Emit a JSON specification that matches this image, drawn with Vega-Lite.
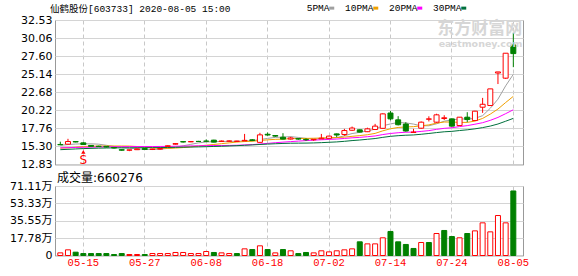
{
  "$schema": "https://vega.github.io/schema/vega-lite/v6.json",
  "autosize": {"type": "pad"},
  "padding": {"left": 9, "top": 3, "right": 0, "bottom": 0},
  "background": "white",
  "spacing": 1,
  "datasets": {
    "k": [
      {"d": "2020-05-12", "o": 15.56, "h": 15.94, "l": 15.50, "c": 15.52, "v": 27000, "r": 1, "5PMA": 15.45, "10PMA": 15.06, "20PMA": 15.10, "30PMA": 14.85},
      {"d": "2020-05-13", "o": 15.60, "h": 16.33, "l": 15.55, "c": 15.96, "v": 58000, "r": 1, "5PMA": 15.55, "10PMA": 15.10, "20PMA": 15.12, "30PMA": 14.90},
      {"d": "2020-05-14", "o": 15.96, "h": 16.02, "l": 15.85, "c": 15.90, "v": 34000, "r": 0, "5PMA": 15.62, "10PMA": 15.20, "20PMA": 15.15, "30PMA": 14.95},
      {"d": "2020-05-15", "o": 15.78, "h": 15.85, "l": 15.50, "c": 15.55, "v": 20000, "r": 0, "5PMA": 15.65, "10PMA": 15.28, "20PMA": 15.18, "30PMA": 15.00},
      {"d": "2020-05-18", "o": 15.43, "h": 15.45, "l": 15.25, "c": 15.30, "v": 20000, "r": 0, "5PMA": 15.65, "10PMA": 15.32, "20PMA": 15.20, "30PMA": 15.03},
      {"d": "2020-05-19", "o": 15.32, "h": 15.40, "l": 15.22, "c": 15.28, "v": 20000, "r": 0, "5PMA": 15.60, "10PMA": 15.34, "20PMA": 15.22, "30PMA": 15.06},
      {"d": "2020-05-20", "o": 15.30, "h": 15.35, "l": 15.15, "c": 15.22, "v": 20000, "r": 0, "5PMA": 15.45, "10PMA": 15.35, "20PMA": 15.24, "30PMA": 15.08},
      {"d": "2020-05-21", "o": 15.15, "h": 15.20, "l": 15.00, "c": 15.08, "v": 10000, "r": 0, "5PMA": 15.29, "10PMA": 15.35, "20PMA": 15.25, "30PMA": 15.10},
      {"d": "2020-05-22", "o": 14.85, "h": 14.90, "l": 14.70, "c": 14.78, "v": 20000, "r": 0, "5PMA": 15.13, "10PMA": 15.35, "20PMA": 15.26, "30PMA": 15.10},
      {"d": "2020-05-25", "o": 14.78, "h": 14.83, "l": 14.65, "c": 14.82, "v": 10000, "r": 1, "5PMA": 15.04, "10PMA": 15.34, "20PMA": 15.27, "30PMA": 15.11},
      {"d": "2020-05-26", "o": 14.85, "h": 15.00, "l": 14.80, "c": 14.95, "v": 10000, "r": 1, "5PMA": 14.97, "10PMA": 15.28, "20PMA": 15.28, "30PMA": 15.12},
      {"d": "2020-05-27", "o": 15.00, "h": 15.05, "l": 14.85, "c": 14.88, "v": 10000, "r": 0, "5PMA": 14.90, "10PMA": 15.18, "20PMA": 15.28, "30PMA": 15.12},
      {"d": "2020-05-28", "o": 14.88, "h": 14.98, "l": 14.82, "c": 14.92, "v": 20000, "r": 1, "5PMA": 14.87, "10PMA": 15.08, "20PMA": 15.28, "30PMA": 15.13},
      {"d": "2020-05-29", "o": 14.92, "h": 15.05, "l": 14.85, "c": 15.00, "v": 20000, "r": 1, "5PMA": 14.91, "10PMA": 15.02, "20PMA": 15.29, "30PMA": 15.14},
      {"d": "2020-06-01", "o": 15.30, "h": 15.45, "l": 15.25, "c": 15.38, "v": 20000, "r": 1, "5PMA": 15.03, "10PMA": 15.03, "20PMA": 15.30, "30PMA": 15.15},
      {"d": "2020-06-02", "o": 15.60, "h": 15.75, "l": 15.55, "c": 15.68, "v": 31000, "r": 1, "5PMA": 15.17, "10PMA": 15.07, "20PMA": 15.32, "30PMA": 15.17},
      {"d": "2020-06-03", "o": 15.95, "h": 16.00, "l": 15.82, "c": 15.90, "v": 31000, "r": 1, "5PMA": 15.38, "10PMA": 15.14, "20PMA": 15.34, "30PMA": 15.19},
      {"d": "2020-06-04", "o": 15.92, "h": 16.02, "l": 15.88, "c": 15.96, "v": 20000, "r": 1, "5PMA": 15.58, "10PMA": 15.23, "20PMA": 15.36, "30PMA": 15.21},
      {"d": "2020-06-05", "o": 15.98, "h": 16.05, "l": 15.90, "c": 15.97, "v": 20000, "r": 1, "5PMA": 15.78, "10PMA": 15.35, "20PMA": 15.38, "30PMA": 15.23},
      {"d": "2020-06-08", "o": 16.02, "h": 16.25, "l": 15.98, "c": 16.00, "v": 41000, "r": 1, "5PMA": 15.90, "10PMA": 15.46, "20PMA": 15.40, "30PMA": 15.26},
      {"d": "2020-06-09", "o": 16.15, "h": 16.20, "l": 15.85, "c": 15.88, "v": 31000, "r": 0, "5PMA": 15.94, "10PMA": 15.56, "20PMA": 15.42, "30PMA": 15.29},
      {"d": "2020-06-10", "o": 15.98, "h": 16.10, "l": 15.92, "c": 16.02, "v": 27000, "r": 1, "5PMA": 15.97, "10PMA": 15.67, "20PMA": 15.42, "30PMA": 15.32},
      {"d": "2020-06-11", "o": 16.00, "h": 16.10, "l": 15.95, "c": 16.04, "v": 20000, "r": 1, "5PMA": 15.98, "10PMA": 15.78, "20PMA": 15.43, "30PMA": 15.36},
      {"d": "2020-06-12", "o": 15.98, "h": 16.06, "l": 15.93, "c": 16.02, "v": 20000, "r": 0, "5PMA": 15.99, "10PMA": 15.89, "20PMA": 15.45, "30PMA": 15.40},
      {"d": "2020-06-15", "o": 16.05, "h": 17.00, "l": 16.02, "c": 16.12, "v": 68000, "r": 1, "5PMA": 16.02, "10PMA": 15.96, "20PMA": 15.50, "30PMA": 15.45},
      {"d": "2020-06-16", "o": 16.20, "h": 16.30, "l": 16.02, "c": 16.10, "v": 61000, "r": 0, "5PMA": 16.06, "10PMA": 16.00, "20PMA": 15.54, "30PMA": 15.50},
      {"d": "2020-06-17", "o": 15.85, "h": 17.15, "l": 15.80, "c": 16.87, "v": 99000, "r": 1, "5PMA": 16.23, "10PMA": 16.10, "20PMA": 15.62, "30PMA": 15.56},
      {"d": "2020-06-18", "o": 16.95, "h": 17.20, "l": 16.75, "c": 16.85, "v": 61000, "r": 0, "5PMA": 16.39, "10PMA": 16.19, "20PMA": 15.71, "30PMA": 15.61},
      {"d": "2020-06-19", "o": 16.78, "h": 16.85, "l": 16.60, "c": 16.70, "v": 27000, "r": 1, "5PMA": 16.53, "10PMA": 16.26, "20PMA": 15.80, "30PMA": 15.66},
      {"d": "2020-06-22", "o": 16.55, "h": 17.10, "l": 16.25, "c": 16.29, "v": 61000, "r": 0, "5PMA": 16.56, "10PMA": 16.29, "20PMA": 15.88, "30PMA": 15.70},
      {"d": "2020-06-23", "o": 16.30, "h": 16.60, "l": 16.22, "c": 16.45, "v": 48000, "r": 1, "5PMA": 16.63, "10PMA": 16.35, "20PMA": 15.95, "30PMA": 15.73},
      {"d": "2020-06-24", "o": 16.35, "h": 16.45, "l": 16.20, "c": 16.30, "v": 20000, "r": 0, "5PMA": 16.52, "10PMA": 16.37, "20PMA": 16.02, "30PMA": 15.74},
      {"d": "2020-06-29", "o": 16.25, "h": 16.40, "l": 16.05, "c": 16.20, "v": 31000, "r": 0, "5PMA": 16.39, "10PMA": 16.39, "20PMA": 16.09, "30PMA": 15.75},
      {"d": "2020-06-30", "o": 16.20, "h": 16.30, "l": 16.05, "c": 16.26, "v": 27000, "r": 1, "5PMA": 16.30, "10PMA": 16.41, "20PMA": 16.15, "30PMA": 15.77},
      {"d": "2020-07-01", "o": 16.33, "h": 17.00, "l": 16.30, "c": 16.42, "v": 48000, "r": 1, "5PMA": 16.33, "10PMA": 16.44, "20PMA": 16.20, "30PMA": 15.81},
      {"d": "2020-07-02", "o": 16.40, "h": 16.75, "l": 16.35, "c": 16.70, "v": 37000, "r": 1, "5PMA": 16.38, "10PMA": 16.50, "20PMA": 16.25, "30PMA": 15.86},
      {"d": "2020-07-03", "o": 17.00, "h": 17.05, "l": 16.55, "c": 16.85, "v": 48000, "r": 1, "5PMA": 16.49, "10PMA": 16.50, "20PMA": 16.30, "30PMA": 15.91},
      {"d": "2020-07-06", "o": 16.92, "h": 17.69, "l": 16.74, "c": 17.46, "v": 58000, "r": 1, "5PMA": 16.74, "10PMA": 16.56, "20PMA": 16.38, "30PMA": 15.99},
      {"d": "2020-07-07", "o": 17.50, "h": 18.00, "l": 17.40, "c": 17.80, "v": 68000, "r": 1, "5PMA": 17.05, "10PMA": 16.67, "20PMA": 16.47, "30PMA": 16.09},
      {"d": "2020-07-08", "o": 17.56, "h": 17.60, "l": 17.20, "c": 17.25, "v": 140000, "r": 0, "5PMA": 17.21, "10PMA": 16.77, "20PMA": 16.53, "30PMA": 16.17},
      {"d": "2020-07-09", "o": 17.30, "h": 17.85, "l": 17.25, "c": 17.69, "v": 119000, "r": 1, "5PMA": 17.41, "10PMA": 16.89, "20PMA": 16.62, "30PMA": 16.27},
      {"d": "2020-07-10", "o": 17.60, "h": 18.37, "l": 17.55, "c": 18.06, "v": 119000, "r": 1, "5PMA": 17.65, "10PMA": 17.07, "20PMA": 16.72, "30PMA": 16.37},
      {"d": "2020-07-13", "o": 17.76, "h": 19.80, "l": 17.69, "c": 19.73, "v": 181000, "r": 1, "5PMA": 18.11, "10PMA": 17.42, "20PMA": 16.91, "30PMA": 16.53},
      {"d": "2020-07-14", "o": 19.85, "h": 20.12, "l": 18.85, "c": 19.05, "v": 246000, "r": 0, "5PMA": 18.36, "10PMA": 17.70, "20PMA": 17.06, "30PMA": 16.67},
      {"d": "2020-07-15", "o": 18.92, "h": 19.42, "l": 18.15, "c": 18.25, "v": 140000, "r": 0, "5PMA": 18.56, "10PMA": 17.88, "20PMA": 17.16, "30PMA": 16.76},
      {"d": "2020-07-16", "o": 18.35, "h": 18.60, "l": 17.30, "c": 17.40, "v": 113000, "r": 0, "5PMA": 18.50, "10PMA": 17.95, "20PMA": 17.23, "30PMA": 16.82},
      {"d": "2020-07-17", "o": 17.20, "h": 17.69, "l": 17.18, "c": 17.25, "v": 72000, "r": 0, "5PMA": 18.34, "10PMA": 17.99, "20PMA": 17.25, "30PMA": 16.86},
      {"d": "2020-07-20", "o": 17.78, "h": 18.70, "l": 17.70, "c": 18.60, "v": 133000, "r": 1, "5PMA": 18.11, "10PMA": 18.11, "20PMA": 17.34, "30PMA": 16.95},
      {"d": "2020-07-21", "o": 19.00, "h": 19.40, "l": 18.70, "c": 19.05, "v": 133000, "r": 0, "5PMA": 18.11, "10PMA": 18.23, "20PMA": 17.45, "30PMA": 17.06},
      {"d": "2020-07-22", "o": 18.60, "h": 19.75, "l": 18.50, "c": 19.60, "v": 225000, "r": 1, "5PMA": 18.38, "10PMA": 18.47, "20PMA": 17.62, "30PMA": 17.18},
      {"d": "2020-07-23", "o": 19.10, "h": 19.55, "l": 18.90, "c": 19.20, "v": 256000, "r": 0, "5PMA": 18.74, "10PMA": 18.62, "20PMA": 17.76, "30PMA": 17.29},
      {"d": "2020-07-24", "o": 19.05, "h": 19.10, "l": 18.00, "c": 18.06, "v": 194000, "r": 0, "5PMA": 18.90, "10PMA": 18.62, "20PMA": 17.84, "30PMA": 17.35},
      {"d": "2020-07-27", "o": 18.14, "h": 19.30, "l": 18.10, "c": 19.28, "v": 181000, "r": 1, "5PMA": 19.04, "10PMA": 18.57, "20PMA": 18.00, "30PMA": 17.46},
      {"d": "2020-07-28", "o": 19.28, "h": 19.96, "l": 18.60, "c": 18.96, "v": 225000, "r": 0, "5PMA": 19.02, "10PMA": 18.57, "20PMA": 18.13, "30PMA": 17.56},
      {"d": "2020-07-29", "o": 18.82, "h": 20.15, "l": 18.80, "c": 20.10, "v": 252000, "r": 1, "5PMA": 19.12, "10PMA": 18.75, "20PMA": 18.32, "30PMA": 17.69},
      {"d": "2020-07-30", "o": 20.64, "h": 21.91, "l": 19.87, "c": 21.04, "v": 334000, "r": 1, "5PMA": 19.49, "10PMA": 19.11, "20PMA": 18.53, "30PMA": 17.86},
      {"d": "2020-07-31", "o": 20.87, "h": 23.14, "l": 20.80, "c": 23.14, "v": 242000, "r": 1, "5PMA": 20.50, "10PMA": 19.70, "20PMA": 18.85, "30PMA": 18.07},
      {"d": "2020-08-03", "o": 25.30, "h": 25.45, "l": 23.80, "c": 25.45, "v": 409000, "r": 1, "5PMA": 21.74, "10PMA": 20.39, "20PMA": 19.25, "30PMA": 18.35},
      {"d": "2020-08-04", "o": 24.60, "h": 28.00, "l": 24.50, "c": 28.00, "v": 334000, "r": 1, "5PMA": 23.55, "10PMA": 21.28, "20PMA": 19.76, "30PMA": 18.73},
      {"d": "2020-08-05", "o": 29.13, "h": 30.80, "l": 26.10, "c": 27.95, "v": 660276, "r": 0, "5PMA": 25.12, "10PMA": 22.12, "20PMA": 20.29, "30PMA": 19.12}
    ]
  },
  "config": {
    "view": {"stroke": "#999999", "strokeWidth": 1},
    "axis": {"title": null, "domain": false, "ticks": false, "labelFont": "DejaVu Sans, Noto Sans CJK SC", "labelFontSize": 11, "labelColor": "#000000", "labelOverlap": false},
    "axisY": {"grid": true, "gridColor": "#d4d4d4", "gridWidth": 1, "labelPadding": 3, "labelBound": false, "labelOverlap": false},
    "axisX": {"grid": true, "gridColor": "#c8c8c8", "gridDash": [4, 3], "gridWidth": 1, "bandPosition": 0.5}
  },
  "vconcat": [
    {
      "width": 468,
      "height": 144.5,
      "title": {"text": "仙鹤股份[603733] 2020-08-05 15:00", "anchor": "start", "frame": "group", "font": "Liberation Mono, Noto Sans CJK SC", "fontSize": 9.5, "fontWeight": "normal", "color": "#000000", "offset": 1, "dx": -5},
      "data": {"name": "k"},
      "encoding": {
        "x": {
          "field": "d", "type": "ordinal",
          "scale": {"paddingInner": 0, "paddingOuter": 0.475, "align": 0.2},
          "axis": {"labels": false, "minExtent": 0, "maxExtent": 0, "values": ["2020-05-15", "2020-05-27", "2020-06-08", "2020-06-18", "2020-07-02", "2020-07-14", "2020-07-24", "2020-08-05"]}
        }
      },
      "layer": [
        {
          "transform": [{"fold": ["5PMA", "10PMA", "20PMA", "30PMA"], "as": ["ma", "val"]}],
          "mark": {"type": "line", "strokeWidth": 1},
          "encoding": {
            "y": {
              "field": "val", "type": "quantitative",
              "scale": {"domain": [12.83, 32.53], "nice": false, "zero": false},
              "axis": {"values": [12.83, 15.30, 17.76, 20.22, 22.68, 25.14, 27.60, 30.06, 32.53], "tickCount": 30, "format": ".2f", "labelOverlap": false, "labelFlush": false}
            },
            "color": {
              "field": "ma", "type": "nominal",
              "scale": {"domain": ["5PMA", "10PMA", "20PMA", "30PMA"], "range": ["#a0a0a0", "#f0a000", "#ff00ff", "#00703c"]},
              "legend": {
                "orient": "none", "legendX": 272, "legendY": -17, "direction": "horizontal", "title": null, "padding": 0,
                "labelFont": "Liberation Mono", "labelFontSize": 9.5, "labelColor": "#000000", "labelAlign": "right", "labelOffset": -7,
                "symbolType": "M-1,-0.6H1V0.6H-1Z", "symbolSize": 25, "symbolStrokeWidth": 0, "columnPadding": 9,
                "encode": {"symbols": {"update": {"fill": {"signal": "datum.value === '5PMA' ? '#a0a0a0' : datum.value === '10PMA' ? '#f0a000' : datum.value === '20PMA' ? '#ff00ff' : '#00703c'"}, "stroke": {"value": "transparent"}}}}
              }
            }
          }
        },
        {
          "mark": {"type": "rule", "strokeWidth": 1},
          "encoding": {
            "y": {"field": "l", "type": "quantitative"},
            "y2": {"field": "h"},
            "color": {"condition": {"test": "datum.c >= datum.o", "value": "#ff0000"}, "value": "#008000"}
          }
        },
        {
          "mark": {"type": "bar", "width": 5, "strokeWidth": 1},
          "encoding": {
            "y": {"field": "o", "type": "quantitative"},
            "y2": {"field": "c"},
            "fill": {"condition": {"test": "datum.c >= datum.o", "value": "#ffffff"}, "value": "#008000"},
            "stroke": {"condition": {"test": "datum.c >= datum.o", "value": "#ff0000"}, "value": "#008000"}
          }
        },
        {
          "data": {"values": [{"t": "S"}]},
          "mark": {"type": "point", "shape": "triangle-up", "filled": true, "color": "#ff0000", "size": 18, "opacity": 1},
          "encoding": {"x": {"datum": "2020-05-15", "type": "ordinal"}, "y": {"datum": 14.55, "type": "quantitative"}}
        },
        {
          "data": {"values": [{"t": "S"}]},
          "mark": {"type": "text", "color": "#ff0000", "fontSize": 12, "font": "DejaVu Sans", "baseline": "middle"},
          "encoding": {"x": {"datum": "2020-05-15", "type": "ordinal"}, "y": {"datum": 13.5, "type": "quantitative"}, "text": {"field": "t"}}
        },
        {
          "data": {"values": [{"t": "东方财富网"}]},
          "mark": {"type": "text", "color": "#d6d6d6", "fontSize": 17, "fontWeight": "bold", "font": "Noto Sans CJK SC", "align": "right", "baseline": "middle", "dx": 9},
          "encoding": {"x": {"datum": "2020-08-05", "type": "ordinal"}, "y": {"datum": 31.35, "type": "quantitative"}, "text": {"field": "t"}}
        },
        {
          "data": {"values": [{"t": "eastmoney.com"}]},
          "mark": {"type": "text", "color": "#d6d6d6", "fontSize": 9.5, "fontWeight": "bold", "font": "DejaVu Sans", "align": "right", "baseline": "middle", "dx": 9},
          "encoding": {"x": {"datum": "2020-08-05", "type": "ordinal"}, "y": {"datum": 29.25, "type": "quantitative"}, "text": {"field": "t"}}
        }
      ]
    },
    {
      "width": 468,
      "height": 69.5,
      "title": {"text": "成交量:660276", "anchor": "start", "frame": "group", "font": "DejaVu Sans, Noto Sans CJK SC", "fontSize": 12, "fontWeight": "normal", "color": "#000000", "offset": -5, "dx": 2},
      "data": {"name": "k"},
      "mark": {"type": "bar", "width": 5, "strokeWidth": 1},
      "encoding": {
        "x": {
          "field": "d", "type": "ordinal",
          "scale": {"paddingInner": 0, "paddingOuter": 0.475, "align": 0.2},
          "axis": {"values": ["2020-05-15", "2020-05-27", "2020-06-08", "2020-06-18", "2020-07-02", "2020-07-14", "2020-07-24", "2020-08-05"], "labelExpr": "slice(datum.value, 5)", "labelColor": "#ff0000", "labelFont": "Liberation Mono", "labelFontSize": 10.5, "labelPadding": 2, "labelAngle": 0}
        },
        "y": {
          "field": "v", "type": "quantitative",
          "scale": {"domain": [0, 711100], "nice": false},
          "axis": {"values": [0, 177800, 355500, 533300, 711100], "tickCount": 30, "labelExpr": "datum.value == 0 ? '0' : format(datum.value / 10000, '.2f') + '万'", "labelOverlap": false, "labelFlush": false}
        },
        "fill": {"condition": {"test": "datum.r == 1", "value": "#ffffff"}, "value": "#008000"},
        "stroke": {"condition": {"test": "datum.r == 1", "value": "#ff0000"}, "value": "#008000"}
      }
    }
  ]
}
